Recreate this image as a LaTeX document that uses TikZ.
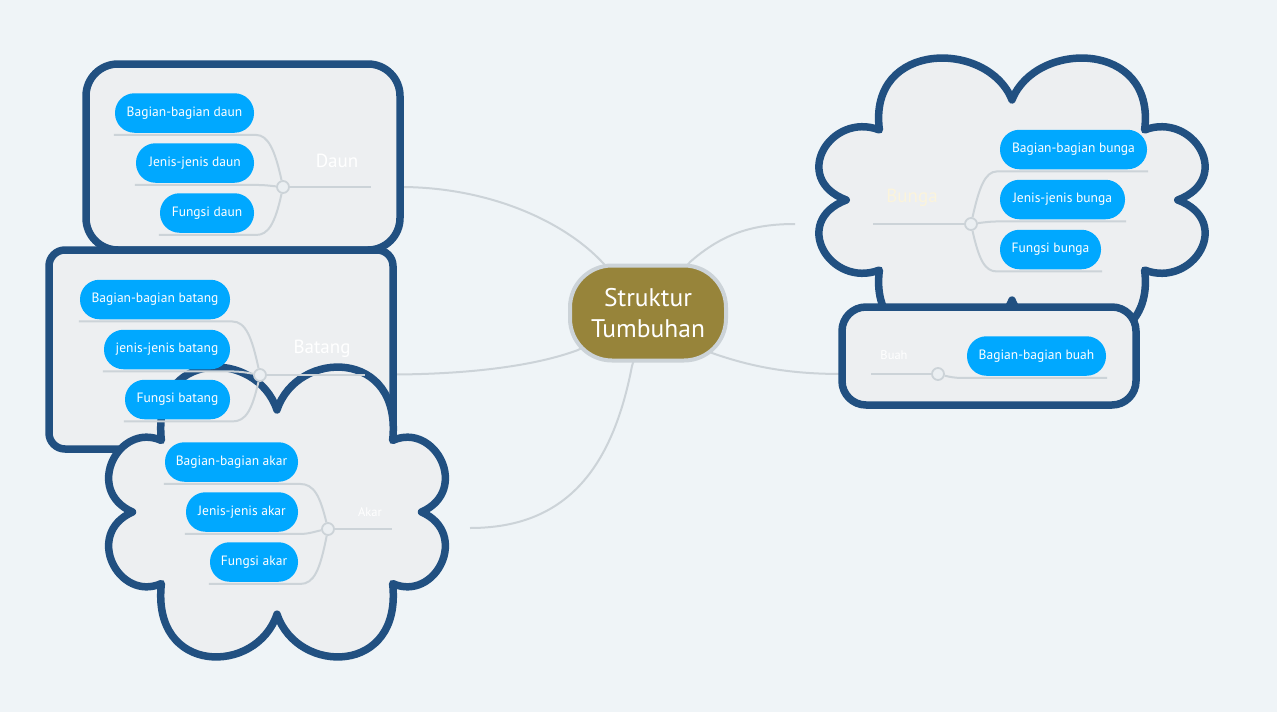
\documentclass[tikz,border=0pt]{standalone}
\usepackage{fontspec}
\setmainfont{PT Sans}
\usetikzlibrary{calc}
\definecolor{bg}{HTML}{EFF4F7}
\definecolor{boxfill}{HTML}{EDEFF1}
\definecolor{bord}{HTML}{215081}
\definecolor{pillc}{HTML}{00A8FF}
\definecolor{lineg}{HTML}{CCD3D8}
\definecolor{junc}{HTML}{EBEFF2}
\definecolor{olive}{HTML}{97843A}
\definecolor{cream}{HTML}{FBF4DC}
\newcommand\pillfont{\fontsize{13.5}{16}\selectfont}
\begin{document}
\begin{tikzpicture}[x=1pt,y=-1pt,
  boundary/.style={draw=bord, line width=7.5, fill=boxfill, line join=round},
  conn/.style={draw=lineg, line width=2},
  branch/.style={draw=lineg, line width=2},
  pill/.style={fill=pillc, text=white, rounded corners=19.5, minimum height=39.5, inner sep=0, font=\pillfont},
  junction/.style={circle, draw=lineg, fill=junc, line width=1.8, minimum size=12, inner sep=0},
  lbl/.style={text=white, inner sep=0},
  central/.style={fill=olive, draw=lineg, line width=4, rounded corners=42, minimum width=156, minimum height=95, align=center, text=white, font=\fontsize{25.5}{31}\selectfont, inner sep=0}
]
\useasboundingbox (0,0) rectangle (1277,712);
\fill[bg] (0,0) rectangle (1277,712);

% central node position (drawn last)
\coordinate (rc) at (648,313);
\coordinate (dEnd) at (371,187);
\coordinate (bEnd) at (365,375);
\coordinate (aIn) at (470,528);
\coordinate (uIn) at (795,224);
\coordinate (hEnd) at (871,374);

% connectors from the central topic
\draw[conn] (rc) -- (603,263) .. controls (565,222) and (490,187) .. (400,187) -- (dEnd);
\draw[conn] (rc) -- (578,350) .. controls (535,366) and (470,374) .. (395,374.5) -- (bEnd);
\draw[conn] (rc) -- (632,366) .. controls (612,470) and (565,528) .. (aIn);
\draw[conn] (rc) -- (690,262) .. controls (722,234) and (752,224) .. (uIn);
\draw[conn] (rc) -- (712,353) .. controls (760,370) and (800,374) .. (843,374) -- (hEnd);

% boundaries
\draw[boundary, rounded corners=32] (86,64) rectangle (400,250);
\draw[boundary, rounded corners=16] (49,250) rectangle (393,449);
\begin{scope}[shift={(277,512)}, xscale=170, yscale=146]
\draw[boundary] (0,-0.70) .. controls (0.12,-1.12) and (0.74,-1.12) .. (0.68,-0.49)
  .. controls (0.93,-0.62) and (1.14,-0.15) .. (0.85,0)
  .. controls (1.14,0.15) and (0.93,0.62) .. (0.68,0.49)
  .. controls (0.74,1.12) and (0.12,1.12) .. (0,0.70)
  .. controls (-0.12,1.12) and (-0.74,1.12) .. (-0.68,0.49)
  .. controls (-0.93,0.62) and (-1.14,0.15) .. (-0.85,0)
  .. controls (-1.14,-0.15) and (-0.93,-0.62) .. (-0.68,-0.49)
  .. controls (-0.74,-1.12) and (-0.12,-1.12) .. cycle;
\end{scope}
\begin{scope}[shift={(1012,200)}, xscale=195, yscale=143]
\draw[boundary] (0,-0.70) .. controls (0.12,-1.12) and (0.74,-1.12) .. (0.68,-0.49)
  .. controls (0.93,-0.62) and (1.14,-0.15) .. (0.85,0)
  .. controls (1.14,0.15) and (0.93,0.62) .. (0.68,0.49)
  .. controls (0.74,1.12) and (0.12,1.12) .. (0,0.70)
  .. controls (-0.12,1.12) and (-0.74,1.12) .. (-0.68,0.49)
  .. controls (-0.93,0.62) and (-1.14,0.15) .. (-0.85,0)
  .. controls (-1.14,-0.15) and (-0.93,-0.62) .. (-0.68,-0.49)
  .. controls (-0.74,-1.12) and (-0.12,-1.12) .. cycle;
\end{scope}
\draw[boundary, rounded corners=24] (842,307) rectangle (1136,405);

% ---- Daun ----
\node[pill, minimum width=139] (d1) at (184.5,113) {Bagian-bagian daun};
\node[pill, minimum width=118] (d2) at (195,163) {Jenis-jenis daun};
\node[pill, minimum width=94] (d3) at (207,213) {Fungsi daun};
\node[junction] (jd) at (283,187) {};
\draw[branch] (jd) -- (dEnd);
\draw[branch] (jd) .. controls (275,150) and (268,135) .. ($(d1.south east)+(2,2)$) -- ($(d1.south west)+(-1,2)$);
\draw[branch] (jd) .. controls (272,186) and (266,185) .. ($(d2.south east)+(2,2)$) -- ($(d2.south west)+(-1,2)$);
\draw[branch] (jd) .. controls (275,224) and (268,235) .. ($(d3.south east)+(2,2)$) -- ($(d3.south west)+(-1,2)$);
\node[lbl, font=\fontsize{19}{22}\selectfont] (daun) at (337,161) {Daun};

% ---- Batang ----
\node[pill, minimum width=150] (b1) at (155,299.5) {Bagian-bagian batang};
\node[pill, minimum width=126] (b2) at (167,349.5) {jenis-jenis batang};
\node[pill, minimum width=105] (b3) at (177.5,399.5) {Fungsi batang};
\node[junction] (jb) at (260,375) {};
\draw[branch] (jb) -- (bEnd);
\draw[branch] (jb) .. controls (252,338) and (246,321.5) .. ($(b1.south east)+(2,2)$) -- ($(b1.south west)+(-1,2)$);
\draw[branch] (jb) .. controls (249,373) and (241,371.5) .. ($(b2.south east)+(2,2)$) -- ($(b2.south west)+(-1,2)$);
\draw[branch] (jb) .. controls (252,410) and (246,421.5) .. ($(b3.south east)+(2,2)$) -- ($(b3.south west)+(-1,2)$);
\node[lbl, font=\fontsize{19}{22}\selectfont] (batang) at (322,349) {Batang};

% ---- Akar ----
\node[pill, minimum width=133] (a1) at (231.5,462) {Bagian-bagian akar};
\node[pill, minimum width=112] (a2) at (242,512) {Jenis-jenis akar};
\node[pill, minimum width=88] (a3) at (254,562) {Fungsi akar};
\node[junction] (ja) at (328,529) {};
\draw[branch] (ja) -- (392,529);
\draw[branch] (ja) .. controls (320,496) and (314,484) .. ($(a1.south east)+(2,2)$) -- ($(a1.south west)+(-1,2)$);
\draw[branch] (ja) .. controls (317,531) and (309,534) .. ($(a2.south east)+(2,2)$) -- ($(a2.south west)+(-1,2)$);
\draw[branch] (ja) .. controls (320,570) and (314,584) .. ($(a3.south east)+(2,2)$) -- ($(a3.south west)+(-1,2)$);
\node[lbl, font=\fontsize{12.5}{15}\selectfont] (akar) at (370,512) {Akar};

% ---- Bunga ----
\node[pill, minimum width=147] (u1) at (1073.5,149.5) {Bagian-bagian bunga};
\node[pill, minimum width=125] (u2) at (1062.5,199.5) {Jenis-jenis bunga};
\node[pill, minimum width=101] (u3) at (1050.5,249.5) {Fungsi bunga};
\node[junction] (ju) at (971,224) {};
\draw[branch] (873,224) -- (ju);
\draw[branch] (ju) .. controls (979,188) and (985,171.5) .. ($(u1.south west)+(-3,2)$) -- ($(u1.south east)+(1,2)$);
\draw[branch] (ju) .. controls (983,222.5) and (990,221.5) .. ($(u2.south west)+(-3,2)$) -- ($(u2.south east)+(1,2)$);
\draw[branch] (ju) .. controls (979,260) and (985,271.5) .. ($(u3.south west)+(-3,2)$) -- ($(u3.south east)+(1,2)$);
\node[lbl, text=cream, font=\fontsize{19}{22}\selectfont] (bunga) at (912,198) {Bunga};

% ---- Buah ----
\node[pill, minimum width=139] (h1) at (1036.5,356) {Bagian-bagian buah};
\node[junction] (jh) at (938,374) {};
\draw[branch] (hEnd) -- (jh);
\draw[branch] (jh) .. controls (950,377) and (955,378) .. ($(h1.south west)+(-4,2)$) -- ($(h1.south east)+(1,2)$);
\node[lbl, font=\fontsize{12.5}{15}\selectfont] (buah) at (894,355) {Buah};

% ---- central topic ----
\node[central] (root) at (rc) {Struktur\\Tumbuhan};
\end{tikzpicture}
\end{document}
